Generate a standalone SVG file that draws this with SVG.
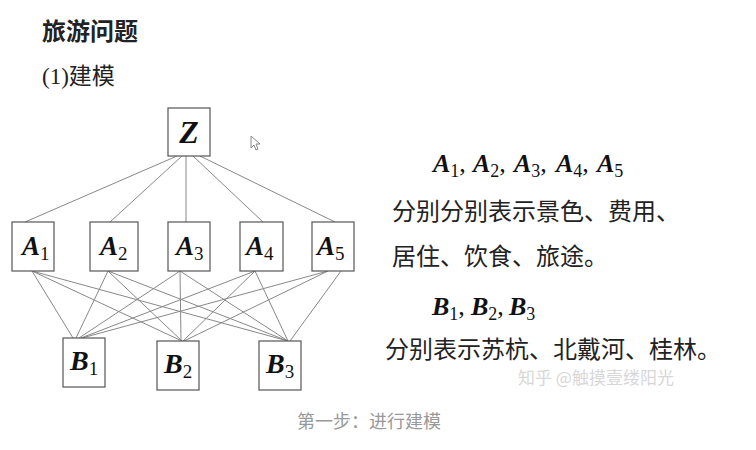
<svg xmlns="http://www.w3.org/2000/svg" width="756" height="450" viewBox="0 0 756 450">
<style>
.box{fill:#fff;stroke:#555;stroke-width:1.2}
.ln{stroke:#888;stroke-width:1;fill:none}
.m{font-family:"Liberation Serif",serif;font-style:italic;font-weight:bold;fill:#111}
.sub{font-style:normal;font-weight:normal}
.cj{font-family:"Noto Sans CJK SC",sans-serif;fill:#222}
</style>
<rect width="756" height="450" fill="#fff"/>
<text class="cj" x="42" y="40" font-size="24" font-weight="bold">旅游问题</text>
<text x="42" y="84" font-size="23"><tspan font-family="Liberation Serif,serif" fill="#222">(1)</tspan><tspan class="cj">建模</tspan></text>
<g id="connectors">
<line class="ln" x1="177" y1="156" x2="25" y2="222"/>
<line class="ln" x1="182" y1="156" x2="110" y2="222"/>
<line class="ln" x1="186" y1="156" x2="186" y2="222"/>
<line class="ln" x1="193" y1="156" x2="263" y2="222"/>
<line class="ln" x1="200" y1="156" x2="335" y2="222"/>
<line class="ln" x1="32" y1="271" x2="73" y2="338"/>
<line class="ln" x1="32" y1="271" x2="182" y2="341"/>
<line class="ln" x1="32" y1="271" x2="288" y2="341"/>
<line class="ln" x1="108" y1="271" x2="76" y2="338"/>
<line class="ln" x1="108" y1="271" x2="182" y2="341"/>
<line class="ln" x1="108" y1="271" x2="288" y2="341"/>
<line class="ln" x1="180" y1="271" x2="79" y2="338"/>
<line class="ln" x1="180" y1="271" x2="181" y2="341"/>
<line class="ln" x1="180" y1="271" x2="288" y2="341"/>
<line class="ln" x1="255" y1="271" x2="81" y2="338"/>
<line class="ln" x1="255" y1="271" x2="183" y2="341"/>
<line class="ln" x1="255" y1="271" x2="288" y2="341"/>
<line class="ln" x1="328" y1="271" x2="82" y2="338"/>
<line class="ln" x1="328" y1="271" x2="184" y2="341"/>
<line class="ln" x1="341" y1="271" x2="290" y2="341"/>
</g>
<g id="Z"><rect class="box" x="168" y="108" width="42" height="48"/><text class="m" x="189" y="143" font-size="32" text-anchor="middle">Z</text></g>
<g id="A1"><rect class="box" x="12" y="222" width="42" height="49"/><text class="m" x="22" y="255" font-size="27">A<tspan class="sub" font-size="19" dy="5">1</tspan></text></g>
<g id="A2"><rect class="box" x="90" y="222" width="48" height="49"/><text class="m" x="100" y="255" font-size="27">A<tspan class="sub" font-size="19" dy="5">2</tspan></text></g>
<g id="A3"><rect class="box" x="168" y="222" width="42" height="49"/><text class="m" x="176" y="255" font-size="27">A<tspan class="sub" font-size="19" dy="5">3</tspan></text></g>
<g id="A4"><rect class="box" x="240" y="222" width="43" height="49"/><text class="m" x="246" y="255" font-size="27">A<tspan class="sub" font-size="19" dy="5">4</tspan></text></g>
<g id="A5"><rect class="box" x="312" y="222" width="42" height="49"/><text class="m" x="317" y="255" font-size="27">A<tspan class="sub" font-size="19" dy="5">5</tspan></text></g>
<g id="B1"><rect class="box" x="63" y="338" width="42" height="49"/><text class="m" x="70" y="370" font-size="28">B<tspan class="sub" font-size="19" dy="5">1</tspan></text></g>
<g id="B2"><rect class="box" x="157" y="341" width="42" height="49"/><text class="m" x="164" y="373" font-size="28">B<tspan class="sub" font-size="19" dy="5">2</tspan></text></g>
<g id="B3"><rect class="box" x="259" y="341" width="42" height="49"/><text class="m" x="266" y="373" font-size="28">B<tspan class="sub" font-size="19" dy="5">3</tspan></text></g>
<path d="M251 136 L251 148 L254 145 L256 150 L258 149 L256 144 L260 144 Z" fill="#fff" stroke="#888" stroke-width="1"/>
<g font-size="26">
<text class="m" x="433" y="172">A<tspan class="sub" font-size="18" dy="5">1</tspan><tspan class="sub" dy="-5">,</tspan></text>
<text class="m" x="473" y="172">A<tspan class="sub" font-size="18" dy="5">2</tspan><tspan class="sub" dy="-5">,</tspan></text>
<text class="m" x="514" y="172">A<tspan class="sub" font-size="18" dy="5">3</tspan><tspan class="sub" dy="-5">,</tspan></text>
<text class="m" x="556" y="172">A<tspan class="sub" font-size="18" dy="5">4</tspan><tspan class="sub" dy="-5">,</tspan></text>
<text class="m" x="597" y="172">A<tspan class="sub" font-size="18" dy="5">5</tspan></text>
<text class="m" x="432" y="315">B<tspan class="sub" font-size="18" dy="5">1</tspan><tspan class="sub" dy="-5">,</tspan></text>
<text class="m" x="471" y="315">B<tspan class="sub" font-size="18" dy="5">2</tspan><tspan class="sub" dy="-5">,</tspan></text>
<text class="m" x="509" y="315">B<tspan class="sub" font-size="18" dy="5">3</tspan></text>
</g>
<text class="cj" x="392" y="220" font-size="24">分别分别表示景色、费用、</text>
<text class="cj" x="392" y="265" font-size="24">居住、饮食、旅途。</text>
<text class="cj" x="385" y="358" font-size="24">分别表示苏杭、北戴河、桂林。</text>
<text x="518" y="384" font-size="17" font-family="Noto Sans CJK SC,sans-serif" fill="#ccc" fill-opacity="0.8">知乎 @触摸壹缕阳光</text>
<text x="297" y="428" font-size="18" font-family="Noto Sans CJK SC,sans-serif" fill="#999">第一步：进行建模</text>
</svg>
